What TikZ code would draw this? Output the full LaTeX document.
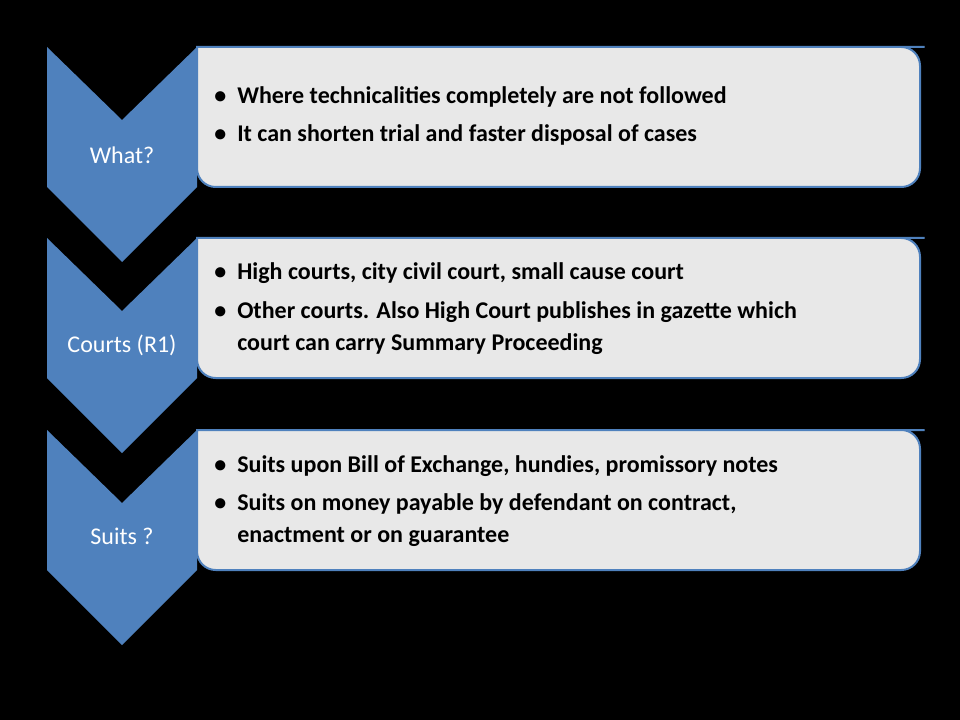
\documentclass[tikz,border=0pt]{standalone}
\usepackage{fontspec}
\setmainfont{Carlito}
\definecolor{cblue}{HTML}{4F81BD}
\definecolor{cgray}{HTML}{E8E8E8}
\begin{document}
\begin{tikzpicture}[x=0.75pt,y=-0.75pt,
  chev/.style={fill=cblue,draw=none},
  box/.style={fill=cgray,draw=cblue,line width=1.5pt,rounded corners=14pt},
  lab/.style={text=white,font=\fontsize{18}{22}\selectfont},
  txt/.style={anchor=base west,inner sep=0pt,font=\bfseries\fontsize{18}{22}\selectfont},
  bul/.style={anchor=base west,inner sep=0pt,font=\bfseries\fontsize{18}{22}\selectfont}]
\fill[black] (0,0) rectangle (960,720);
\useasboundingbox (0,0) rectangle (960,720);
\foreach \i/\y in {1/47,2/238,3/430}{
  \path[box] (197,\y) -- (920-14,\y) [rounded corners=14pt] -- (920,\y) -- (920,\y+140) -- (197,\y+140) [sharp corners] -- cycle;
  \fill[chev] (47,\y) -- (122,\y+73) -- (197,\y) -- (197,\y+140) -- (122,\y+215) -- (47,\y+140) -- cycle;
}
\node[lab] (l1) at (122,155) {What?};
\node[lab] (l2) at (122,345) {Courts (R1)};
\node[lab] (l3) at (122,536) {Suits ?};
\foreach \n/\y/\t in {
 a/104/Where technicalities completely are not followed,
 b/142/It can shorten trial and faster disposal of cases,
 c/280/{High courts, city civil court, small cause court},
 d/318/Other courts. Also High Court publishes in gazette which,
 f/472/{Suits upon Bill of Exchange, hundies, promissory notes},
 g/510/{Suits on money payable by defendant on contract,}}{
  \node[bul] (u\n) at (214,\y) {\textbullet};
  \node[txt] (t\n) at (237,\y) {\t};
}
\node[txt] (te) at (237,350) {court can carry Summary Proceeding};
\node[txt] (th) at (237,542) {enactment or on guarantee};
\end{tikzpicture}
\end{document}
